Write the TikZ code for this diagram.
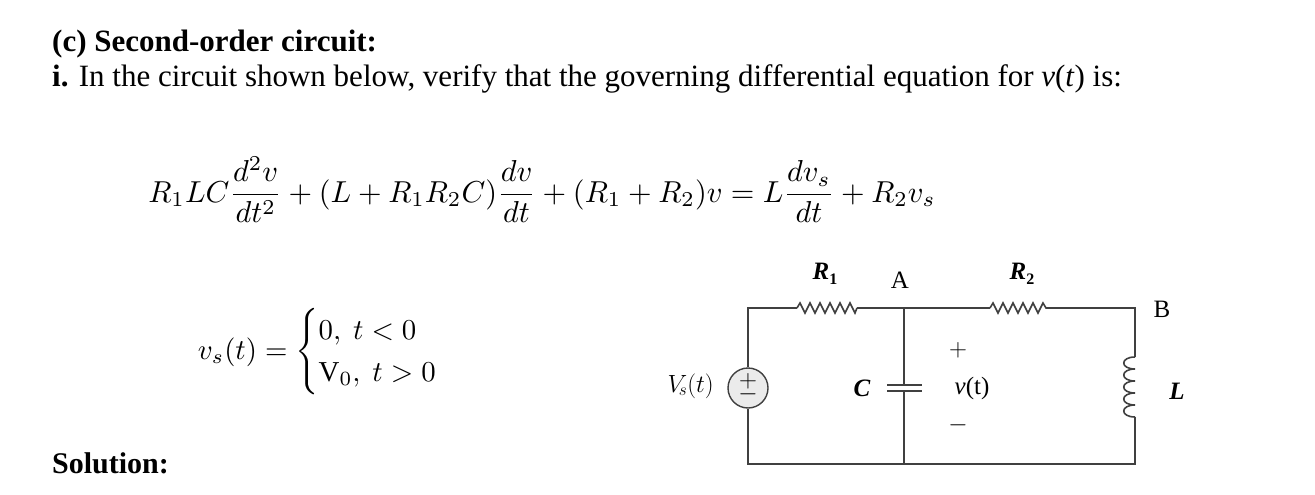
\documentclass[tikz,border=0pt]{standalone}
\usepackage{fontspec}
\usepackage{amsmath}
\usepackage{graphicx}
\setmainfont{Liberation Serif}
\begin{document}
\begin{tikzpicture}[x=1pt,y=-1pt,
  wire/.style={line width=1.6pt,draw=black!75},
  lbl/.style={inner sep=0pt,font=\fontsize{25}{27}\selectfont},
  head/.style={inner sep=0pt,anchor=west,font=\fontsize{31}{34}\selectfont}]
\useasboundingbox (0,0) rectangle (1315,495);
\node[head,font=\fontsize{31}{34}\selectfont\bfseries] (h1) at (52,44) {(c) Second-order circuit:};
\node[head] (h2) at (52,79) {\textbf{i.} In the circuit shown below, verify that the governing differential equation for \textit{v}(\textit{t}) is:};
\node[head,font=\fontsize{30}{34}\selectfont\bfseries] (sol) at (52,463) {Solution:};
\node[inner sep=0pt] (eq) at (542,190) {\resizebox{787pt}{!}{$R_1LC\dfrac{d^2v}{dt^2}+(L+R_1R_2C)\dfrac{dv}{dt}+(R_1+R_2)v=L\dfrac{dv_s}{dt}+R_2v_s$}};
\node[inner sep=0pt] (vs) at (333,352) {\resizebox{270pt}{!}{$v_s(t)=\begin{cases}0,\ t<0\\ \mathrm{V}_0,\ t>0\end{cases}$}};
% circuit
\coordinate (tl) at (748,308); \coordinate (bl) at (748,464);
\coordinate (ta) at (904,308); \coordinate (ba) at (904,464);
\coordinate (tr) at (1135,308); \coordinate (br) at (1135,464);
\node[circle,draw=black!75,line width=1.4pt,fill=black!8,minimum size=40pt,inner sep=0pt,
  font=\fontsize{24}{14}\selectfont,align=center] (src) at (748,388) {$+$\\[-4pt]$-$};
\draw[wire] (src.north) -- (tl) -- (797,308);
\draw[wire] (797,308) -- ++(3,-5) -- ++(5,10) -- ++(5,-10) -- ++(5,10) -- ++(5,-10) -- ++(5,10) -- ++(5,-10) -- ++(5,10) -- ++(5,-10) -- ++(5,10) -- ++(5,-10) -- ++(5,10) -- (857,308);
\draw[wire] (857,308) -- (ta) -- (990,308);
\draw[wire] (990,308) -- ++(3,-5) -- ++(5,10) -- ++(5,-10) -- ++(5,10) -- ++(5,-10) -- ++(5,10) -- ++(5,-10) -- ++(5,10) -- ++(5,-10) -- ++(5,10) -- ++(5,-10) -- ++(3,5) -- (1048,308);
\draw[wire] (1048,308) -- (tr) -- (1135,357);
\draw[wire] (1135,357) .. controls (1120,357) and (1120,369) .. (1135,369)
  .. controls (1120,369) and (1120,381) .. (1135,381)
  .. controls (1120,381) and (1120,393) .. (1135,393)
  .. controls (1120,393) and (1120,405) .. (1135,405)
  .. controls (1120,405) and (1120,417) .. (1135,417);
\draw[wire] (1135,417) -- (br) -- (bl) -- (src.south);
\draw[wire] (ta) -- (904,385); \draw[wire] (904,391) -- (ba);
\draw[line width=1.3pt,draw=black!75] (887,385) -- (922,385) (887,391) -- (922,391);
\node[lbl] (r1) at (825,274) {\textbf{\textit{R}}\raisebox{-5pt}{\fontsize{16}{16}\selectfont\textbf{1}}};
\node[lbl] (r2) at (1022,274) {\textbf{\textit{R}}\raisebox{-5pt}{\fontsize{16}{16}\selectfont\textbf{2}}};
\node[lbl] (A) at (900,280) {A};
\node[lbl] (B) at (1162,309) {B};
\node[lbl] (C) at (862,388) {\textbf{\textit{C}}};
\node[lbl] (L) at (1177,391) {\textbf{\textit{L}}};
\node[lbl] (pl) at (958,350) {$+$};
\node[lbl] (vt) at (972,388) {\textit{v}(t)};
\node[lbl] (mi) at (958,425) {$-$};
\node[lbl,anchor=east] (Vs) at (714,386) {$V_{\!s}(t)$};
\end{tikzpicture}
\end{document}
